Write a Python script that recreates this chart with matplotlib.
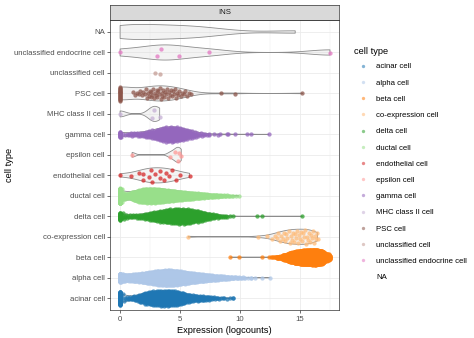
import numpy as np
import matplotlib
matplotlib.use("Agg")
import matplotlib.pyplot as plt
from matplotlib.lines import Line2D

plt.rcParams['font.family'] = ['Liberation Sans', 'DejaVu Sans']

# categories, bottom to top
cell_types = ['acinar cell', 'alpha cell', 'beta cell', 'co-expression cell', 'delta cell',
              'ductal cell', 'endothelial cell', 'epsilon cell', 'gamma cell', 'MHC class II cell',
              'PSC cell', 'unclassified cell', 'unclassified endocrine cell', 'NA']

colors = ['#1f77b4', '#aec7e8', '#ff7f0e', '#ffbb78', '#2ca02c', '#98df8a', '#d62728',
          '#ff9896', '#9467bd', '#c5b0d5', '#8c564b', '#c49c94', '#e377c2', None]

# number of cells with expression exactly 0
zero_counts = {'acinar cell': 60, 'alpha cell': 60, 'delta cell': 25, 'ductal cell': 120,
               'gamma cell': 15, 'PSC cell': 22}

# cell counts in 0.5-wide expression bins, starting at bin_start
bin_start = {'acinar cell': 0, 'alpha cell': 0, 'beta cell': 12.5, 'co-expression cell': 12,
             'delta cell': 0, 'ductal cell': 0, 'gamma cell': 0, 'PSC cell': 1.0}
bin_counts = {
    'acinar cell': [5, 8, 15, 30, 45, 50, 55, 55, 55, 50, 40, 25, 20, 18, 14, 8, 3, 2, 2],
    'alpha cell': [40, 50, 60, 70, 85, 100, 115, 125, 125, 115, 100, 85, 72, 60, 50, 40, 30, 22, 15, 9, 5, 2],
    'beta cell': [5, 30, 90, 170, 220, 250, 260, 270, 240, 120],
    'co-expression cell': [1, 2, 4, 5, 6, 6, 6, 6, 6],
    'delta cell': [10, 6, 8, 12, 18, 25, 32, 38, 42, 45, 45, 42, 35, 28, 20, 14, 8, 5, 2],
    'ductal cell': [20, 30, 70, 90, 100, 100, 95, 85, 75, 65, 55, 48, 40, 32, 25, 18, 12, 8, 4, 2],
    'gamma cell': [3, 6, 8, 10, 14, 20, 28, 34, 36, 34, 28, 20, 12, 6, 3],
    'PSC cell': [3, 4, 6, 7, 7, 7, 6, 5, 4, 3],
}

single_values = {
    'acinar cell': [8.2, 8.6, 9.4],
    'alpha cell': [10.9, 11.25, 11.8, 12.5],
    'beta cell': [9.2, 9.9, 11.8, 12.4],
    'co-expression cell': [5.7, 11.5],
    'delta cell': [11.4, 11.8, 15.2],
    'gamma cell': [7.4, 7.8, 8.2, 8.3, 8.9, 9.0, 9.6, 10.6, 10.9, 12.4],
    'PSC cell': [8.4, 9.6, 15.2],
    'endothelial cell': [0, 0.9, 1.6, 1.9, 1.95, 2.4, 2.6, 2.7, 2.9, 3.3, 3.35, 3.7, 3.8, 4.1,
                         4.3, 4.7, 5.0, 5.8],
    'epsilon cell': [1.0, 4.2, 4.6, 4.8, 4.9, 5.1],
    'MHC class II cell': [0, 2.7, 2.8, 3.3],
    'unclassified cell': [2.9, 3.3],
    'unclassified endocrine cell': [0, 3.1, 3.4, 4.9, 7.4, 17.5],
    'NA': [0, 0, 0, 0.8, 1.6, 2.6, 3.5, 4.4, 5.2, 6.0, 7.0, 8.2, 14.6],
}

x_ticks = [0, 5, 10, 15]
half_width = 0.37


def group_values(name):
    vals = [0.0] * zero_counts.get(name, 0)
    if name in bin_counts:
        start = bin_start[name]
        for k, c in enumerate(bin_counts[name]):
            lo = start + 0.5 * k
            vals += [lo + 0.5 * (j + 0.5) / c for j in range(c)]
    vals += single_values.get(name, [])
    return np.sort(np.array(vals, dtype=float))


def nrd0(x):
    sd = np.std(x, ddof=1)
    q1, q3 = np.percentile(x, [25, 75])
    lo = min(sd, (q3 - q1) / 1.34)
    if lo <= 0:
        lo = sd
    return 0.9 * lo * len(x) ** -0.2


def kde(x, grid, bw):
    return np.exp(-0.5 * ((grid[:, None] - x[None, :]) / bw) ** 2).sum(axis=1)


def vdc(n, base=2):
    out = np.zeros(n)
    for i in range(n):
        k, denom, v = i + 1, 1.0, 0.0
        while k:
            k, r = divmod(k, base)
            denom *= base
            v += r / denom
        out[i] = v
    return out


fig = plt.figure(figsize=(4.74, 3.38), dpi=100)
ax = fig.add_axes([0.2331, 0.0814, 0.4821, 0.8603])

for pos, (name, col) in enumerate(zip(cell_types, colors), start=1):
    vals = group_values(name)
    if len(vals) < 3:
        bw = None
    else:
        bw = nrd0(vals)
        grid = np.linspace(vals.min(), vals.max(), 512)
        dens = kde(vals, grid, bw)
        w = dens / dens.max() * half_width
        ax.fill_between(grid, pos - w, pos + w, facecolor='#d9d9d9', alpha=0.3,
                        edgecolor='none', zorder=2)
        ax.fill_between(grid, pos - w, pos + w, facecolor='none',
                        edgecolor='#8c8c8c', linewidth=0.6, zorder=2)
    if col is None:
        continue
    if bw is None:
        offs = (vdc(len(vals)) - 0.5) * 2 * 0.1
    else:
        pd = kde(vals, vals, bw * 0.5)
        offs = (vdc(len(vals)) - 0.5) * 2 * pd / pd.max() * half_width
    ax.scatter(vals, pos + offs, s=9.5, color=col, alpha=0.75, linewidths=0, zorder=3)

ax.set_xlim(-0.8, 18.25)
ax.set_ylim(0.4, 14.6)
ax.set_yticks(range(1, len(cell_types) + 1))
ax.set_yticklabels(cell_types)
ax.set_xticks(x_ticks)
ax.set_xticks([2.5, 7.5, 12.5, 17.5], minor=True)
ax.tick_params(axis='both', which='major', labelsize=5.6, labelcolor='#4d4d4d',
               color='#333333', length=2.5, width=0.5, pad=1.5)
ax.tick_params(axis='x', which='minor', length=0)
ax.grid(True, which='major', color='#ebebeb', linewidth=0.6, zorder=0)
ax.grid(True, which='minor', axis='x', color='#ebebeb', linewidth=0.3, zorder=0)
ax.set_axisbelow(True)
for sp in ax.spines.values():
    sp.set_color('#333333')
    sp.set_linewidth(0.5)

ax.set_xlabel('Expression (logcounts)', fontsize=6.7, labelpad=2)
fig.text(10 / 474, 0.512, 'cell type', rotation=90, fontsize=6.7, ha='center', va='center')

strip = fig.add_axes([0.2331, 0.9417, 0.4821, 0.0435])
strip.set_facecolor('#d9d9d9')
strip.set_xticks([])
strip.set_yticks([])
for sp in strip.spines.values():
    sp.set_color('#333333')
    sp.set_linewidth(0.5)
strip.text(0.5, 0.5, 'INS', fontsize=5.6, color='#1a1a1a', ha='center', va='center',
           transform=strip.transAxes)

handles = []
for name, col in zip(cell_types, colors):
    if col is None:
        handles.append(Line2D([], [], linestyle='none', marker='none', label=name))
    else:
        handles.append(Line2D([], [], linestyle='none', marker='o', markersize=2.4,
                              markerfacecolor=col, markeredgewidth=0, alpha=0.55, label=name))
leg = fig.legend(handles=handles, title='cell type', loc='upper left',
                 bbox_to_anchor=(351 / 474, 1 - 42 / 338), frameon=False, fontsize=5.6,
                 title_fontsize=6.7, labelspacing=1.13, handlelength=2.3, handletextpad=0.5,
                 alignment='left', borderaxespad=0)
leg.get_title().set_position((0, -2))

fig.savefig('out.png', dpi=100)
